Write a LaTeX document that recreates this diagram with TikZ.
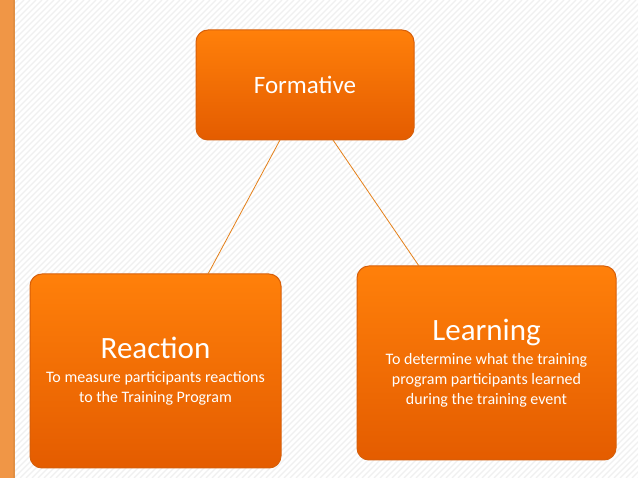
\documentclass[tikz,border=0pt]{standalone}
\usepackage{fontspec}
\setmainfont{Carlito}
\definecolor{otop}{RGB}{255,128,10}
\definecolor{obot}{RGB}{228,92,0}
\definecolor{oedge}{RGB}{215,95,10}
\definecolor{bar}{RGB}{240,150,70}
\begin{document}
\begin{tikzpicture}[x=1pt,y=-1pt,
  box/.style={rounded corners=12pt,top color=otop,bottom color=obot,draw=oedge,line width=1pt,text=white,align=center,font=\fontsize{16}{20}\selectfont},
  conn/.style={draw=orange!60!brown,line width=0.8pt}]
\useasboundingbox (0,0) rectangle (638,478);
\fill[white] (0,0) rectangle (638,478);
\begin{scope}
\clip (15,0) rectangle (638,478);
\foreach \i in {0,6,...,1120} \draw[gray!12,line width=1.2pt] (\i,0) -- (\i-478,478);
\end{scope}
\fill[bar] (0,0) rectangle (15,478);
\fill[bar!70!brown] (13,0) rectangle (15,478);
\node[box,minimum width=218pt,minimum height=110pt] (f) at (305,85) {{\fontsize{25}{30}\selectfont Formative}};
\node[box,minimum width=251pt,minimum height=194pt] (r) at (155.5,371) {{\fontsize{31}{36}\selectfont Reaction}\\[4pt]To measure participants reactions\\to the Training Program};
\node[box,minimum width=259pt,minimum height=194pt] (l) at (486.5,363) {{\fontsize{31}{36}\selectfont Learning}\\[4pt]To determine what the training\\program participants learned\\during the training event};
\coordinate (f1) at (280,140);\coordinate (f2) at (333,140);
\coordinate (r1) at (208,274);\coordinate (l1) at (419,266);
\draw[conn] (f1) -- (r1);
\draw[conn] (f2) -- (l1);
\end{tikzpicture}
\end{document}
